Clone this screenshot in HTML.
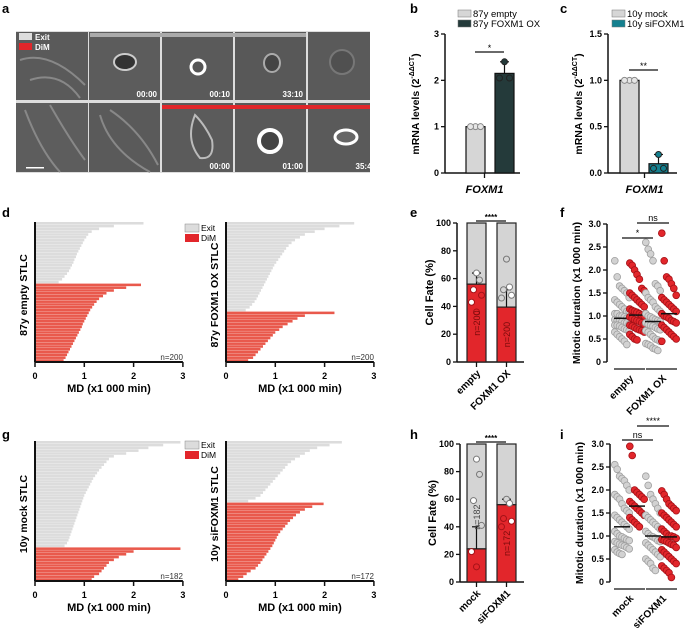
<!DOCTYPE html>
<html><head><meta charset="utf-8"><style>
html,body{margin:0;padding:0;background:#fff}
svg{display:block;font-family:"Liberation Sans",Arial,sans-serif}
</style></head><body>
<svg id="fig" width="685" height="628" viewBox="0 0 685 628" font-weight="bold" xmlns="http://www.w3.org/2000/svg">
<g font-size="13">
<text x="2" y="13">a</text>
<text x="410" y="13">b</text>
<text x="560" y="13">c</text>
<text x="2" y="217">d</text>
<text x="410" y="217">e</text>
<text x="560" y="217">f</text>
<text x="2" y="439">g</text>
<text x="410" y="439">h</text>
<text x="560" y="439">i</text>
</g>
<g>
<rect x="16" y="31" width="354" height="142" fill="#ddd"/>
<rect x="16" y="32" width="72" height="68" fill="#5a5a5a"/>
<rect x="89" y="32" width="71" height="68" fill="#5c5c5c"/>
<rect x="162" y="32" width="71" height="68" fill="#5a5a5a"/>
<rect x="235" y="32" width="71" height="68" fill="#585858"/>
<rect x="308" y="32" width="62" height="68" fill="#5a5a5a"/>
<rect x="16" y="103" width="72" height="69" fill="#5d5d5d"/>
<rect x="89" y="103" width="71" height="69" fill="#5a5a5a"/>
<rect x="162" y="103" width="71" height="69" fill="#5b5b5b"/>
<rect x="235" y="103" width="71" height="69" fill="#595959"/>
<rect x="308" y="103" width="62" height="69" fill="#5a5a5a"/>
<path d="M20 60 Q50 50 85 85 M30 80 Q60 70 80 98 M100 115 Q110 150 150 172 M110 110 Q140 130 158 165 M25 110 Q40 150 60 172 M50 105 Q70 140 85 160" stroke="#888" stroke-width="2" fill="none"/>
<ellipse cx="125" cy="62" rx="11" ry="8" fill="#333" stroke="#ccc" stroke-width="2"/>
<circle cx="198" cy="67" r="7" fill="#555" stroke="#fff" stroke-width="3"/>
<ellipse cx="272" cy="63" rx="8" ry="9" fill="#444" stroke="#aaa" stroke-width="2"/>
<circle cx="342" cy="62" r="12" fill="#505050" stroke="#777" stroke-width="2"/>
<path d="M195 115 Q185 140 200 158 Q215 160 212 140 Q205 125 195 115Z" fill="#555" stroke="#bbb" stroke-width="2"/>
<circle cx="270" cy="141" r="11" fill="#444" stroke="#fff" stroke-width="4"/>
<ellipse cx="346" cy="137" rx="11" ry="7" fill="#666" stroke="#fff" stroke-width="3"/>
<rect x="90" y="33" width="216" height="4" fill="#aaa"/>
<rect x="162" y="105" width="208" height="4" fill="#e0262a"/>
<rect x="19" y="33" width="13" height="7" fill="#ddd"/>
<rect x="19" y="43" width="13" height="7" fill="#e0262a"/>
<g fill="#fff" font-size="8">
<text x="35" y="40">Exit</text>
<text x="35" y="50">DiM</text>
<text x="157" y="97" text-anchor="end">00:00</text>
<text x="230" y="97" text-anchor="end">00:10</text>
<text x="303" y="97" text-anchor="end">33:10</text>
<text x="230" y="169" text-anchor="end">00:00</text>
<text x="303" y="169" text-anchor="end">01:00</text>
<text x="376" y="169" text-anchor="end">35:40</text>
</g>
<rect x="26" y="167" width="18" height="1.5" fill="#fff"/>
</g>
</svg>
<script>
// ---------- data ----------
const bCats = ["87y empty","87y FOXM1 OX"];
const bMeans = [1.0, 2.15];
const bSD = [0, 0.25];
const bDots0 = [1.0, 1.0, 1.0];
const bDots1 = [2.4, 2.05, 2.05];
const cCats = ["10y mock","10y siFOXM1"];
const cMeans = [1.0, 0.1];
const cSD = [0, 0.1];
const cDots0 = [1.0, 1.0, 1.0];
const cDots1 = [0.2, 0.05, 0.05];

const dL_exit = [2.2,1.6,1.3,1.15,1.08,1.04,1.0,0.97,0.94,0.91,0.88,0.85,0.83,0.8,0.78,0.75,0.72,0.69,0.65,0.6,0.55,0.48];
const dL_dim = [2.15,1.85,1.6,1.45,1.38,1.3,1.25,1.2,1.16,1.12,1.09,1.06,1.03,1.0,0.97,0.95,0.92,0.89,0.86,0.83,0.8,0.77,0.74,0.71,0.68,0.65,0.62,0.58];
const dR_exit = [2.6,2.3,2.0,1.8,1.6,1.5,1.4,1.33,1.27,1.22,1.18,1.14,1.1,1.06,1.02,0.98,0.95,0.92,0.89,0.86,0.83,0.8,0.77,0.74,0.71,0.68,0.65,0.62,0.58,0.53,0.48,0.4];
const dR_dim = [2.2,1.6,1.45,1.35,1.25,1.15,1.08,1.0,0.95,0.9,0.85,0.8,0.75,0.7,0.65,0.6,0.55,0.45];
const gL_exit = [2.95,2.6,2.3,2.1,1.85,1.6,1.5,1.45,1.4,1.35,1.3,1.26,1.22,1.18,1.15,1.12,1.09,1.06,1.03,1.0,0.98,0.96,0.94,0.92,0.9,0.88,0.86,0.84,0.82,0.8,0.78,0.76,0.74,0.72,0.7,0.68,0.65,0.6];
const gL_dim = [2.95,2.0,1.85,1.7,1.6,1.5,1.45,1.4,1.35,1.3,1.2,1.15];
const gR_exit = [2.35,2.1,1.85,1.7,1.6,1.5,1.4,1.32,1.25,1.2,1.15,1.1,1.05,1.0,0.95,0.9,0.85,0.8,0.75,0.7,0.6,0.45];
const gR_dim = [1.98,1.75,1.6,1.5,1.42,1.36,1.3,1.25,1.2,1.15,1.1,1.06,1.03,1.0,0.97,0.94,0.9,0.86,0.82,0.78,0.74,0.7,0.65,0.6,0.5,0.42,0.35,0.25];
const mdTicks = [0,1,2,3];

const eCats = ["empty","FOXM1 OX"];
const eDiM = [56, 39.5];
const eErr = [64, 52];
const eDots0 = [64,59,52,48,43,36];
const eDots1 = [74,54,52,48,46];
const hCats = ["mock","siFOXM1"];
const hDiM = [24, 56];
const hErr = [40, 60];
const hDots0 = [89,78,59,41,22,11];
const hDots1 = [60,57,46,44,40];
const pctTicks = [0,20,40,60,80,100];

const fCats = ["empty","FOXM1 OX"];
const f1 = [2.2,1.85,1.65,1.6,1.55,1.5,1.4,1.35,1.3,1.25,1.2,1.15,1.1,1.1,1.05,1.05,1.0,1.0,0.98,0.95,0.95,0.92,0.9,0.9,0.88,0.85,0.85,0.82,0.8,0.8,0.78,0.75,0.72,0.7,0.68,0.65,0.6,0.55,0.5,0.45,0.38];
const f2 = [2.15,2.1,2.0,1.9,1.8,1.6,1.55,1.5,1.45,1.4,1.35,1.3,1.25,1.2,1.15,1.12,1.1,1.08,1.05,1.02,1.0,0.98,0.95,0.92,0.9,0.88,0.85,0.82,0.8,0.78,0.75,0.72,0.7,0.68,0.65,0.6,0.55,0.5,0.48];
const f3 = [2.6,2.45,2.35,2.2,1.7,1.65,1.55,1.5,1.4,1.35,1.3,1.2,1.15,1.1,1.05,1.0,0.98,0.95,0.92,0.9,0.88,0.85,0.82,0.8,0.78,0.75,0.72,0.7,0.68,0.65,0.6,0.55,0.5,0.48,0.45,0.4,0.38,0.35,0.3,0.28,0.25];
const f4 = [2.8,2.2,1.85,1.8,1.7,1.6,1.45,1.4,1.35,1.3,1.25,1.2,1.15,1.1,1.05,1.0,0.98,0.95,0.9,0.88,0.85,0.8,0.75,0.7,0.65,0.6,0.55,0.5,0.45];
const iCats = ["mock","siFOXM1"];
const i1 = [2.55,2.45,2.3,2.25,2.2,2.1,2.0,1.9,1.85,1.8,1.7,1.6,1.55,1.5,1.45,1.4,1.35,1.3,1.25,1.2,1.15,1.1,1.05,1.0,0.98,0.95,0.92,0.9,0.88,0.85,0.82,0.8,0.78,0.75,0.72,0.7,0.65,0.62,0.6];
const i2 = [2.95,2.75,2.0,1.95,1.9,1.85,1.8,1.75,1.7,1.65,1.6,1.55,1.5,1.45,1.4,1.35,1.3,1.25,1.2];
const i3 = [2.3,2.1,1.9,1.8,1.7,1.6,1.5,1.45,1.4,1.35,1.3,1.25,1.2,1.15,1.1,1.05,1.0,0.98,0.95,0.9,0.88,0.85,0.8,0.75,0.7,0.65,0.6,0.55,0.5,0.45,0.4,0.3,0.25];
const i4 = [1.98,1.9,1.8,1.7,1.65,1.6,1.55,1.5,1.45,1.4,1.35,1.3,1.25,1.2,1.15,1.1,1.05,1.0,1.0,0.98,0.95,0.92,0.9,0.88,0.85,0.82,0.8,0.75,0.7,0.65,0.6,0.55,0.5,0.45,0.4,0.35,0.3,0.25,0.2,0.1];
const mdTicks2 = [0,0.5,1.0,1.5,2.0,2.5,3.0];

// ---------- helpers ----------
const NS = "http://www.w3.org/2000/svg";
const svg = document.getElementById('fig');
function mk(tag, attrs, name, parent, txt) {
  const el = document.createElementNS(NS, tag);
  for (const k in attrs) el.setAttribute(k, attrs[k]);
  
  
  if (txt !== undefined) el.textContent = txt;
  (parent || svg).appendChild(el);
  return el;
}
function line(x1,y1,x2,y2,name,g,w){return mk('line',{x1,y1,x2,y2,stroke:'#111','stroke-width':w||1.3},name,g);}
function yAxis(g, x, yScale, ticks, fmt, top, bottom){
  line(x, top, x, bottom, 'y-axis-line', g, 1.5);
  ticks.forEach(t=>{
    const y=yScale(t);
    line(x-4,y,x,y,'y-tick',g,1.3);
    mk('text',{x:x-6,y:y+3,'font-size':9,'text-anchor':'end'},'y-tick-label',g,fmt(t));
  });
}
function vLabel(g,x,y,txt,size,name){
  return mk('text',{x:0,y:0,'font-size':size||11,'text-anchor':'middle',transform:`translate(${x},${y}) rotate(-90)`},name||'y-axis-title',g,txt);
}
function rotLabel(g,x,y,txt,name){
  mk('text',{x:0,y:0,'font-size':10,'text-anchor':'end',transform:`translate(${x},${y}) rotate(-45)`},name||'x-tick-label',g,txt);
}
const RED='#e2262b', REDD='#a51218', GRAY='#d6d6d6', GRAYD='#9a9a9a', HRED='#e9594c';

// ---------- b & c ----------
function qpcr(name, ax, x0, x1, bx, means, sd, dots0, dots1, color, ticks, fmt, max, cats, legX, sig, sigY){
  const g = mk('g',{},name);
  const y0=173, yTop=34;
  const ys = v => y0 - v/max*(y0-yTop);
  yAxis(g, ax, ys, ticks, fmt, yTop, y0);
  line(ax, y0, x1, y0, 'x-axis-line', g, 1.5);
  line((ax+x1)/2+2, y0, (ax+x1)/2+2, y0+5, 'x-tick', g, 1.3);
  const fills=[GRAY,color];
  [0,1].forEach(i=>{
    const bxx=bx[i];
    mk('rect',{x:bxx,y:ys(means[i]),width:19,height:y0-ys(means[i]),fill:fills[i],stroke:'#111','stroke-width':1.2},'bar-'+cats[i].replace(/\s+/g,'-').toLowerCase(),g);
    if(sd[i]>0){line(bxx+9.5,ys(means[i]),bxx+9.5,ys(means[i]+sd[i]),'error-bar',g,1.2);line(bxx+5,ys(means[i]+sd[i]),bxx+14,ys(means[i]+sd[i]),'error-cap',g,1.2);}
    const dd=i?dots1:dots0;
    dd.forEach((v,j)=>{
      const off=[0,-5,5][j%3];
      mk('circle',{cx:bxx+9.5+off,cy:ys(v),r:3,fill:i?color:'#e6e6e6',stroke:i?'#222':'#888','stroke-width':1},'data-point',g);
    });
  });
  line(bx[0]+9,sigY,bx[1]+9,sigY,'significance-line',g,1.2);
  mk('text',{x:(bx[0]+bx[1])/2+9,y:sigY-1,'font-size':9,'text-anchor':'middle','font-weight':'normal'},'significance-label',g,sig);
  mk('text',{x:(ax+x1)/2+2,y:193,'font-size':11,'text-anchor':'middle','font-style':'italic'},'x-axis-title',g,'FOXM1');
  [0,1].forEach(i=>{
    mk('rect',{x:legX,y:10+i*10,width:13,height:7,fill:fills[i],stroke:'#777','stroke-width':0.5},'legend-swatch',g);
    mk('text',{x:legX+15,y:17+i*10,'font-size':9.5,'font-weight':'normal'},'legend-entry',g,cats[i]);
  });
  const t=mk('text',{x:0,y:0,'font-size':10.5,'text-anchor':'middle',transform:`translate(${ax-26},104) rotate(-90)`},'y-axis-title',g,'mRNA levels (2');
  mk('tspan',{'font-size':7,dy:-5},'superscript',t,'-ΔΔCT');
  mk('tspan',{dy:5},'paren',t,')');
}
qpcr('panel-b-chart',445,445,520,[466,495],bMeans,bSD,bDots0,bDots1,'#243a3a',[0,1,2,3],t=>t,3,bCats,458,'*',52);
qpcr('panel-c-chart',608,608,677,[620,649],cMeans,cSD,cDots0,cDots1,'#14808f',[0,0.5,1.0,1.5],t=>t.toFixed(1),1.5,cCats,612,'**',70);

// ---------- d & g ----------
function hbars(name, ax, top, bot, ex, dm, ylab, n){
  const g=mk('g',{},name);
  const xs=v=>ax+v*49.3;
  const rows=ex.length+dm.length, h=(bot-top)/rows;
  ex.forEach((v,i)=>mk('rect',{x:ax,y:top+i*h,width:xs(v)-ax,height:h-0.25,fill:'#dcdcdc'},'exit-bar',g));
  dm.forEach((v,i)=>mk('rect',{x:ax,y:top+(ex.length+i)*h,width:xs(v)-ax,height:h-0.25,fill:HRED},'dim-bar',g));
  line(ax,top,ax,bot,'y-axis-line',g,2);
  line(ax,bot,xs(3),bot,'x-axis-line',g,2);
  mdTicks.forEach(t=>{line(xs(t),bot,xs(t),bot+5,'x-tick',g,1.5);mk('text',{x:xs(t),y:bot+17,'font-size':9,'text-anchor':'middle'},'x-tick-label',g,t);});
  mk('text',{x:xs(1.5),y:bot+30,'font-size':11,'text-anchor':'middle'},'x-axis-title',g,'MD (x1 000 min)');
  mk('text',{x:xs(3),y:bot-2,'font-size':8,'text-anchor':'end','font-weight':'normal',fill:'#333'},'n-label',g,'n='+n);
  vLabel(g,ax-8,(top+bot)/2+3,ylab,10.5);
}
hbars('panel-d-left',35,222,362,dL_exit,dL_dim,'87y empty STLC',200);
hbars('panel-d-right',226,222,362,dR_exit,dR_dim,'87y FOXM1 OX STLC',200);
hbars('panel-g-left',35,441,581,gL_exit,gL_dim,'10y mock STLC',182);
hbars('panel-g-right',226,441,581,gR_exit,gR_dim,'10y siFOXM1 STLC',172);
function hlegend(y){
  const g=mk('g',{},'hbar-legend');
  mk('rect',{x:185,y:y,width:14,height:8,fill:'#dcdcdc',stroke:'#888','stroke-width':0.5},'legend-exit-swatch',g);
  mk('rect',{x:185,y:y+10,width:14,height:8,fill:RED},'legend-dim-swatch',g);
  mk('text',{x:201,y:y+7,'font-size':8.5,'font-weight':'normal'},'legend-exit',g,'Exit');
  mk('text',{x:201,y:y+17,'font-size':8.5,'font-weight':'normal'},'legend-dim',g,'DiM');
}
hlegend(224); hlegend(441);

// ---------- e & h ----------
function fate(name, ax, y0, yTop, cats, dim, err, d0, d1, nl, sigY){
  const g=mk('g',{},name);
  const ys=v=>y0-v/100*(y0-yTop);
  yAxis(g,ax,ys,pctTicks,t=>t,yTop,y0);
  line(ax,y0,524,y0,'x-axis-line',g,1.5);
  const bx=[467,497];
  [0,1].forEach(i=>{
    const x=bx[i];
    mk('rect',{x:x,y:ys(100),width:19,height:ys(dim[i])-ys(100),fill:'#d4d4d4',stroke:'#222','stroke-width':1.2},'bar-exit-'+cats[i],g);
    mk('rect',{x:x,y:ys(dim[i]),width:19,height:y0-ys(dim[i]),fill:RED,stroke:'#222','stroke-width':1.2},'bar-dim-'+cats[i],g);
    line(x+9.5,ys(dim[i]),x+9.5,ys(err[i]),'error-bar',g,1.2);
    line(x+5,ys(err[i]),x+14,ys(err[i]),'error-cap',g,1.2);
    line(x+9.5,y0,x+9.5,y0+5,'x-tick',g,1.3);
    (i?d1:d0).forEach((v,j)=>{
      const inRed=v<dim[i];
      const filled=(j%2===0)===(i===0)?false:true;
      mk('circle',{cx:x+9.5+[0,3,-3,5,-5,0][j%6],cy:ys(v),r:3,fill:filled?(inRed?RED:GRAY):'#fff',stroke:inRed?REDD:'#777','stroke-width':1},'data-point',g);
    });
    mk('text',{x:0,y:0,'font-size':9,'font-weight':'normal',fill:i||name.includes('-e')?'#7a0b0b':'#444','text-anchor':'middle',transform:`translate(${x+13},${ys(dim[i]/2+ (i===0&&name.includes('-h')?35:0))}) rotate(-90)`},'n-label',g,'n='+nl[i]);
    rotLabel(g,x+14,y0+12,cats[i]);
  });
  line(bx[0]+9,sigY,bx[1]+9,sigY,'significance-line',g,1.2);
  mk('text',{x:(bx[0]+bx[1])/2+9,y:sigY-1,'font-size':8,'text-anchor':'middle'},'significance-label',g,'****');
  vLabel(g,ax-24,(y0+yTop)/2,'Cell Fate (%)',11);
}
fate('panel-e-chart',457,362,223,eCats,eDiM,eErr,eDots0,eDots1,[200,200],221);
fate('panel-h-chart',460,582,444,hCats,hDiM,hErr,hDots0,hDots1,[182,172],442);

// ---------- f & i ----------
function swarm(name, ax, y0, yTop, cols, cats, sigs){
  const g=mk('g',{},name);
  const ys=v=>y0-v/3*(y0-yTop);
  yAxis(g,ax,ys,mdTicks2,t=>t===0?'0':t.toFixed(1),yTop,y0);
  const cx=[622,637,653,669];
  cols.forEach((arr,c)=>{
    const red=c%2===1;
    arr.forEach((v,i)=>{
      const off=((i%7)-3)*2.4;
      mk('circle',{cx:cx[c]+off,cy:ys(v),r:3.4,fill:red?RED:'#d2d2d2',stroke:red?REDD:'#a0a0a0','stroke-width':0.8},'data-point',g);
    });
    const s=[...arr].sort((a,b)=>a-b), med=s[Math.floor(s.length/2)];
    line(cx[c]-8,ys(med),cx[c]+8,ys(med),'median-line',g,1.5);
  });
  line(614,y0+7,645,y0+7,'group-line',g,1.2);
  line(646,y0+7,677,y0+7,'group-line',g,1.2);
  rotLabel(g,634,y0+17,cats[0]);
  rotLabel(g,667,y0+17,cats[1]);
  line(cx[0],sigs[0][2],cx[2],sigs[0][2],'significance-line',g,1.2);
  mk('text',{x:(cx[0]+cx[2])/2,y:sigs[0][2]-2,'font-size':9,'text-anchor':'middle','font-weight':'normal'},'significance-label',g,sigs[0][0]);
  line(cx[1],sigs[1][2],cx[3],sigs[1][2],'significance-line',g,1.2);
  mk('text',{x:(cx[1]+cx[3])/2,y:sigs[1][2]-2,'font-size':9,'text-anchor':'middle','font-weight':'normal'},'significance-label',g,sigs[1][0]);
  vLabel(g,ax-27,(y0+yTop)/2,'Mitotic duration (x1 000 min)',10.5);
}
swarm('panel-f-chart',607,362,224,[f1,f2,f3,f4],fCats,[['*',0,238],['ns',0,223]]);
swarm('panel-i-chart',610,582,444,[i1,i2,i3,i4],iCats,[['ns',0,440],['****',0,426]]);
</script>
</body></html>
